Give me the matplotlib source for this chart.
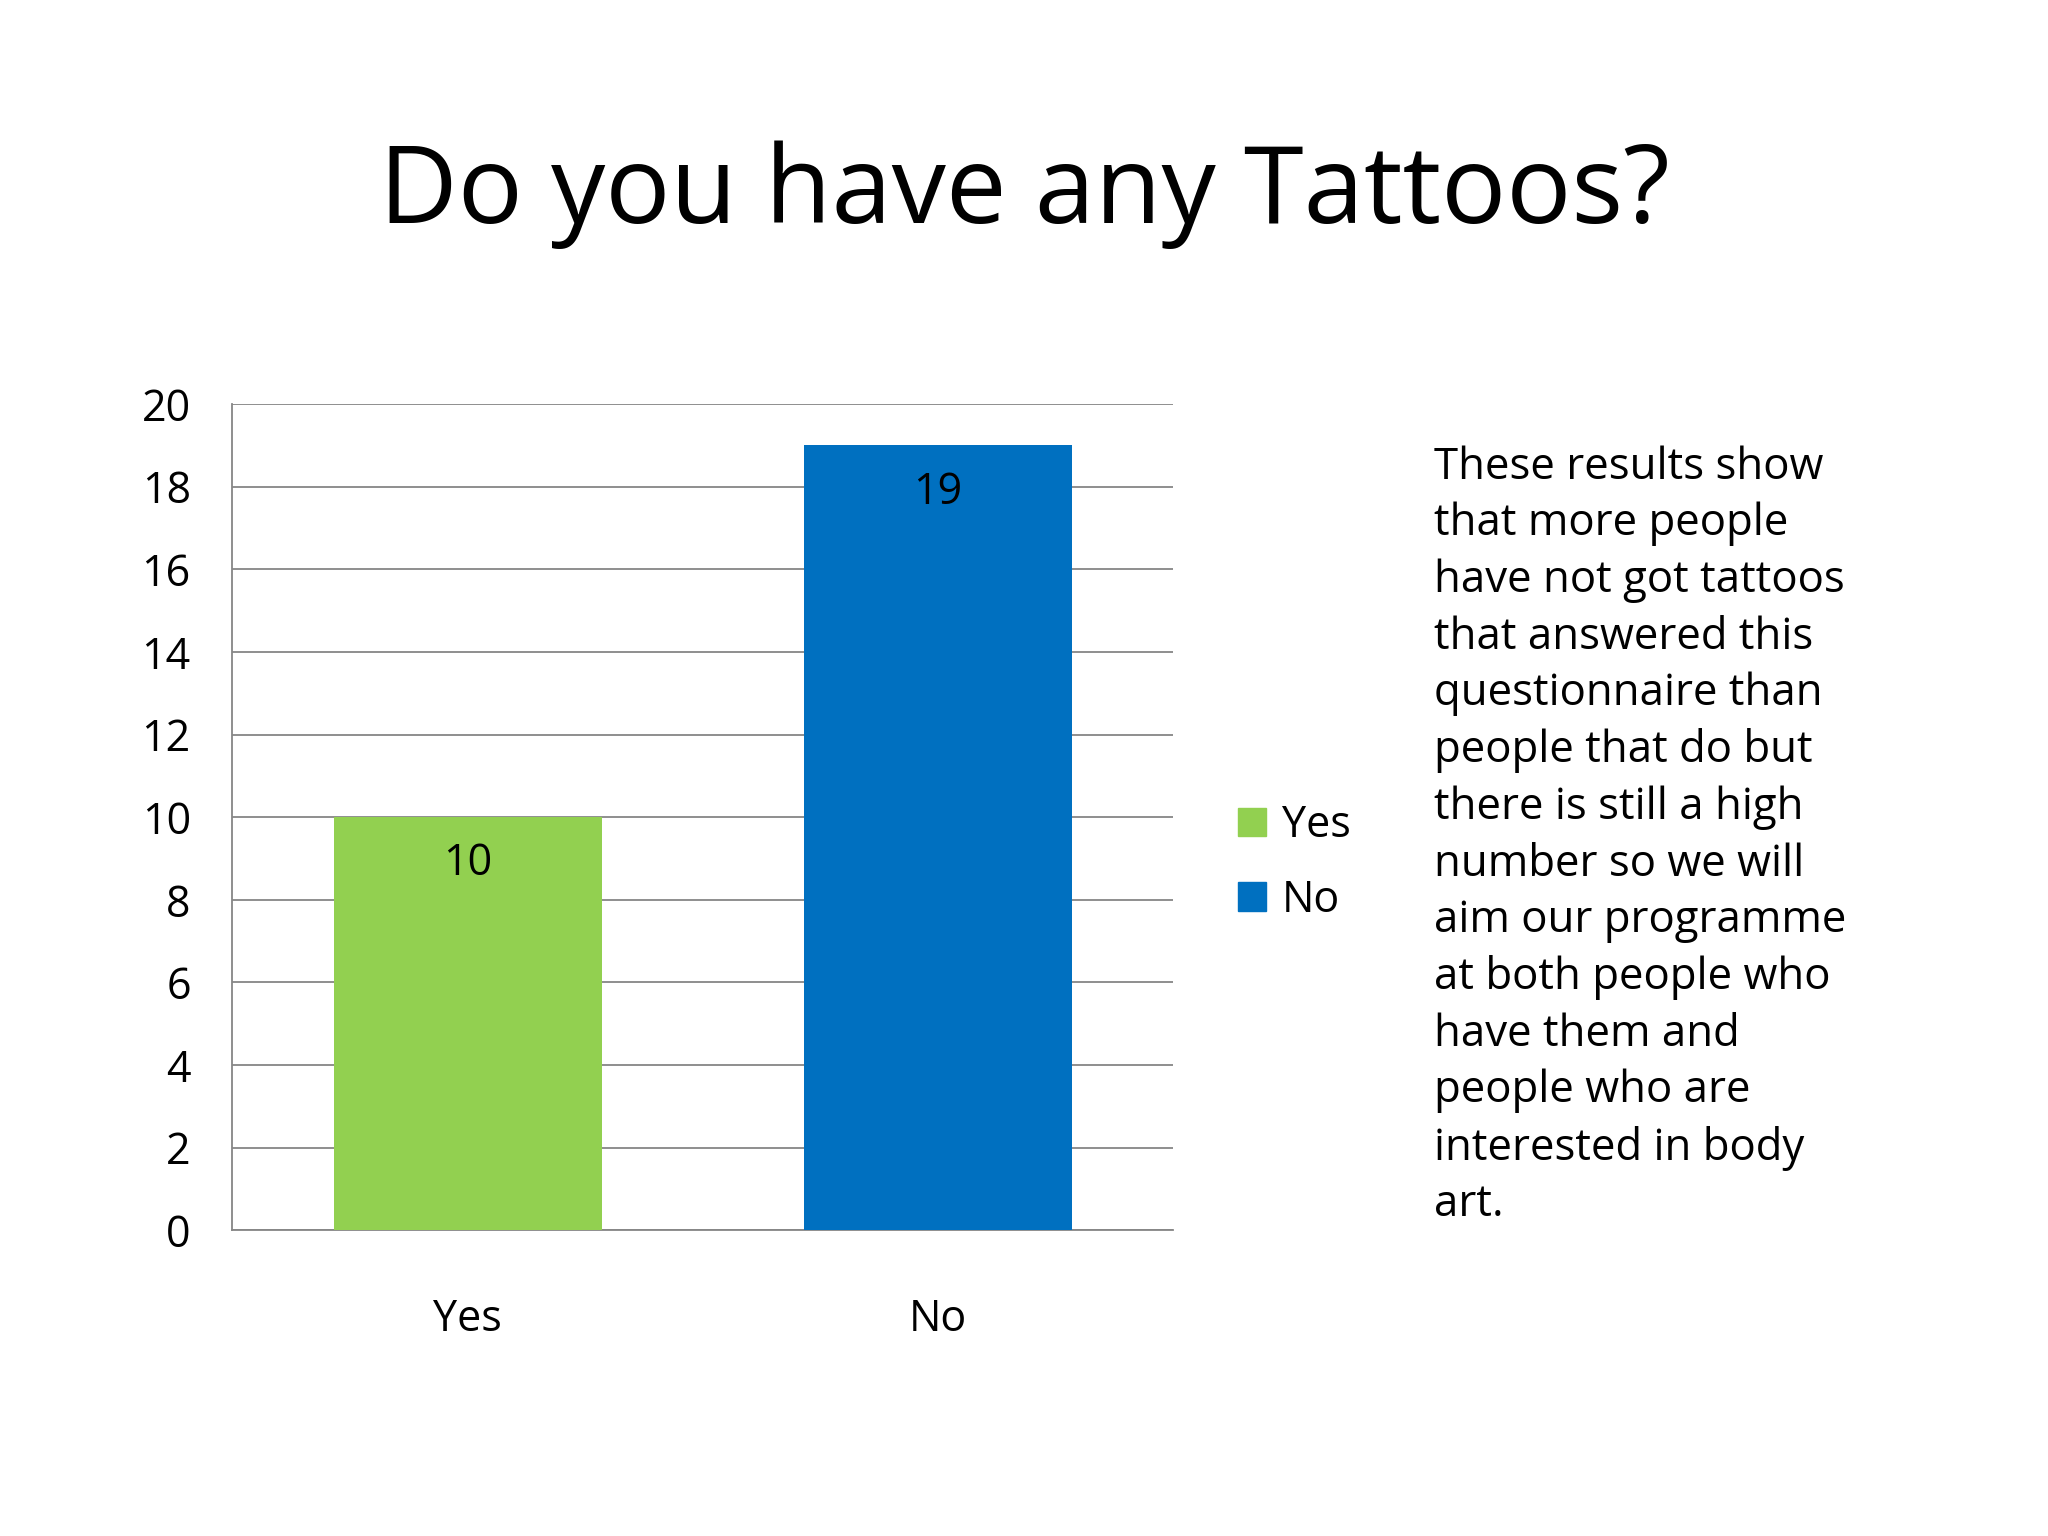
import matplotlib
matplotlib.use("Agg")
import matplotlib.pyplot as plt
from matplotlib.patches import Patch

categories = ["Yes", "No"]
values = [10, 19]
colors = ["#92D050", "#0070C0"]
yticks = [0, 2, 4, 6, 8, 10, 12, 14, 16, 18, 20]
title = "Do you have any Tattoos?"
body = ("These results show\nthat more people\nhave not got tattoos\nthat answered this\n"
        "questionnaire than\npeople that do but\nthere is still a high\nnumber so we will\n"
        "aim our programme\nat both people who\nhave them and\npeople who are\n"
        "interested in body\nart.")

plt.rcParams['font.family'] = ['Open Sans', 'DejaVu Sans']
fig = plt.figure(figsize=(20.48, 15.36), dpi=100)
ax = fig.add_axes([0.1135, 0.199, 0.4592, 0.538])
x = range(len(categories))
bars = ax.bar(x, values, width=0.57, color=colors, zorder=3)
for xi, v in zip(x, values):
    ax.text(xi, v - 0.6, str(v), ha='center', va='top', fontsize=31, zorder=4)
ax.set_xlim(-0.5, 1.5)
ax.set_ylim(0, 20)
ax.set_yticks(yticks)
ax.set_xticks(list(x))
ax.set_xticklabels(categories)
ax.tick_params(axis='both', labelsize=31, length=0)
ax.tick_params(axis='x', pad=48)
ax.tick_params(axis='y', pad=30)
ax.yaxis.grid(True, color='#868686', linewidth=1.3, zorder=0)
for s in ['top', 'right']:
    ax.spines[s].set_visible(False)
for s in ['left', 'bottom']:
    ax.spines[s].set_color('#868686')
    ax.spines[s].set_linewidth(1.3)

handles = [Patch(color=c, label=l) for c, l in zip(colors, categories)]
fig.legend(handles=handles, loc='center left', bbox_to_anchor=(0.590, 0.438),
           frameon=False, fontsize=31, handlelength=0.65, handleheight=0.65,
           handletextpad=0.35, labelspacing=0.7, borderpad=0.2)

fig.text(0.5, 0.873, title, ha='center', va='center', fontsize=78)
fig.text(0.70, 0.710, body, ha='left', va='top', fontsize=31.5, linespacing=1.36)
fig.savefig("out.png", dpi=100, facecolor='white')
